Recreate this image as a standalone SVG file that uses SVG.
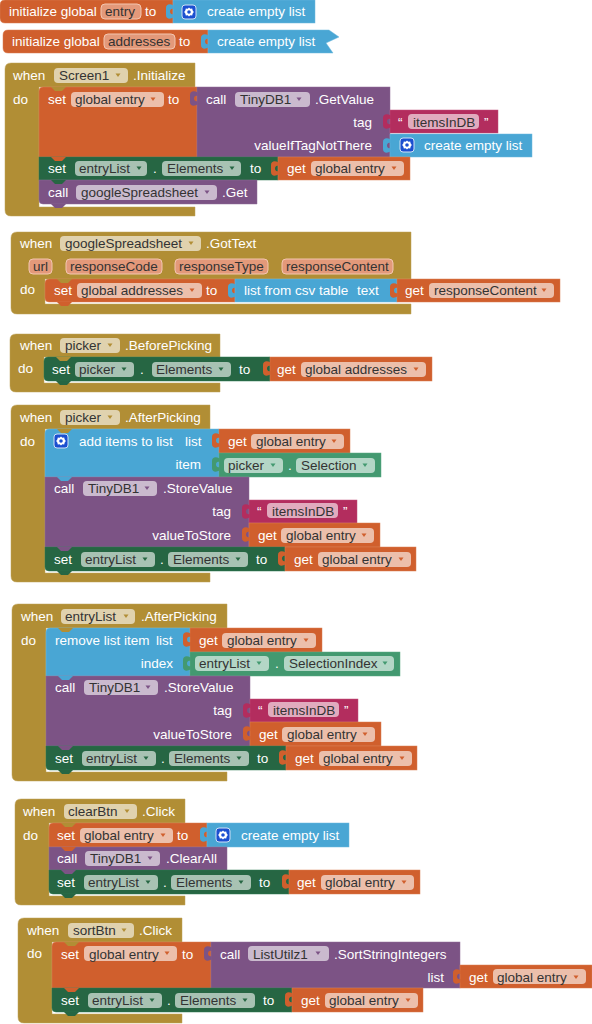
<svg xmlns="http://www.w3.org/2000/svg" width="592" height="1024" viewBox="0 0 592 1024">
<style>
text{font-family:"Liberation Sans",Arial,sans-serif;font-size:13.5px;fill:#fff;transform:translateY(-.5px)}
text.d{fill:#333}
text.e{text-anchor:end}
.or{fill:#D05F2D}.bl{fill:#49A6D4}.pu{fill:#7C5385}.go{fill:#B18E35}.dg{fill:#266643}.lg{fill:#439970}.pk{fill:#B32D5E}
path.or,rect.or{stroke:#DB7F55}path.bl,rect.bl{stroke:#6DB8DD}path.pu,rect.pu{stroke:#8F6C97}path.go{stroke:#BEA25A}path.dg,rect.dg{stroke:#2F7A50}rect.lg{stroke:#5BAA84}rect.pk{stroke:#C2527B}
path,rect{stroke-width:.5}
use{stroke:none}
.f{fill:#fff;fill-opacity:.6;stroke:none;height:15px;rx:4px;ry:4px}
.p{stroke:#F3C6B0;stroke-width:1;fill:#E3997A;height:15px;rx:4px;ry:4px}
.i{fill:#1B4FD0;stroke:#CFE0F5;stroke-width:1;height:14px;width:14px;rx:3px;ry:3px}
</style>
<defs>
<path id="dd" d="M-2.500-1.500H2.500L0 2Z"/>
<path id="t" d="M.5 5.500C-3 3.500-7 4-7 8V15C-7 19-3 19.500.5 17.500V14C-2 15-3 13-3 11.500S-2 8 .5 9Z"/>
<path id="n" d="M0 0L4 4H11L15 0Z"/>
<path id="cog" fill="#fff" d="M0-4.500L1.300-3.300 3.200-3.600 3.600-1.800 4.800 0 3.600 1.800 3.200 3.600 1.300 3.300 0 4.500-1.300 3.300-3.200 3.600-3.600 1.800-4.800 0-3.600-1.800-3.200-3.600-1.300-3.300ZM0-1.800A1.800 1.800 0 1 0 0 1.800 1.800 1.800 0 1 0 0-1.800Z" fill-rule="evenodd"/>
</defs>

<g id="init-entry">
<path class="or" d="M5 0H173V23H5Q0 23 0 18V5Q0 0 5 0Z"/>
<text x="9" y="16">initialize global</text><rect class="p" x="101" y="4" width="40"/><text class="d" x="105" y="16">entry</text><text x="145" y="16">to</text>
</g>
<g id="init-entry-list">
<rect class="bl" x="173" y="0" width="142" height="23"/>
<rect class="i" x="182" y="5"/><use href="#cog" x="189" y="12"/><text x="207" y="16">create empty list</text>
</g>
<g id="init-addresses">
<path class="or" d="M8 30H208V53H8Q3 53 3 48V35Q3 30 8 30Z"/>
<text x="12" y="46">initialize global</text><rect class="p" x="104" y="34" width="71"/><text class="d" x="108" y="46">addresses</text><text x="179" y="46">to</text>
</g>
<g id="init-addresses-list">
<path class="bl" d="M208 30H329L339 37 326 43 333 53H208Z"/>
<text x="217" y="46">create empty list</text>
</g>

<g id="screen-initialize">
<path class="go" d="M11 63H195V87H39V207H195V216H11Q5 216 5 210V69Q5 63 11 63Z"/>
<text x="13" y="80">when</text><rect class="f" x="54" y="68" width="74"/><text class="d" x="59" y="80">Screen1</text><use class="go" href="#dd" x="118" y="75"/><text x="133" y="80">.Initialize</text><text x="13" y="104">do</text>
</g>
<g id="set-entry-1">
<path class="or" d="M43 87H197V157H39V91Q39 87 43 87Z"/>
<text x="48" y="104">set</text><rect class="f" x="71" y="92" width="93"/><text class="d" x="75" y="104">global entry</text><use class="or" href="#dd" x="153" y="99"/><text x="168" y="104">to</text>
</g>
<g id="call-getvalue">
<rect class="pu" x="197" y="87" width="193" height="70"/>
<text x="206" y="104">call</text><rect class="f" x="235" y="92" width="75"/><text class="d" x="240" y="104">TinyDB1</text><use class="pu" href="#dd" x="299" y="99"/><text x="315" y="104">.GetValue</text>
<text class="e" x="372" y="127">tag</text><text class="e" x="372" y="150">valueIfTagNotThere</text>
</g>
<g id="tag-1">
<rect class="pk" x="390" y="110" width="108" height="23"/>
<text x="398" y="127">“</text><rect class="f" x="408" y="114" width="71"/><text class="d" x="413" y="127">itemsInDB</text><text x="484" y="127">”</text>
</g>
<g id="empty-list-1">
<rect class="bl" x="390" y="134" width="142" height="23"/>
<rect class="i" x="400" y="138"/><use href="#cog" x="407" y="145"/><text x="424" y="150">create empty list</text>
</g>
<g id="set-elements-1">
<rect class="dg" x="39" y="157" width="239" height="23"/>
<text x="48" y="173">set</text><rect class="f" x="75" y="161" width="72"/><text class="d" x="79" y="173">entryList</text><use class="dg" href="#dd" x="139" y="168"/><text x="153" y="173">.</text><rect class="f" x="162" y="161" width="79"/><text class="d" x="167" y="173">Elements</text><use class="dg" href="#dd" x="232" y="168"/><text x="250" y="173">to</text>
</g>
<g id="get-entry-1">
<rect class="or" x="278" y="157" width="132" height="23"/>
<text x="287" y="173">get</text><rect class="f" x="311" y="161" width="93"/><text class="d" x="315" y="173">global entry</text><use class="or" href="#dd" x="394" y="168"/>
</g>
<g id="call-get">
<path class="pu" d="M39 180H257V204H43Q39 204 39 200Z"/>
<text x="48" y="197">call</text><rect class="f" x="76" y="185" width="141"/><text class="d" x="81" y="197">googleSpreadsheet</text><use class="pu" href="#dd" x="207" y="192"/><text x="222" y="197">.Get</text>
</g>

<g id="got-text">
<path class="go" d="M17 232H411V279H45V304H411V314H17Q11 314 11 308V238Q11 232 17 232Z"/>
<text x="20" y="248">when</text><rect class="f" x="60" y="236" width="141"/><text class="d" x="65" y="248">googleSpreadsheet</text><use class="go" href="#dd" x="191" y="243"/><text x="206" y="248">.GotText</text>
<rect class="p" x="29" y="259" width="23"/><text class="d" x="33" y="271">url</text>
<rect class="p" x="66" y="259" width="96"/><text class="d" x="70" y="271">responseCode</text>
<rect class="p" x="175" y="259" width="93"/><text class="d" x="179" y="271">responseType</text>
<rect class="p" x="282" y="259" width="111"/><text class="d" x="286" y="271">responseContent</text>
<text x="20" y="294">do</text>
</g>
<g id="set-addresses">
<path class="or" d="M49 279H235V302H49Q45 302 45 298V283Q45 279 49 279Z"/>
<text x="54" y="295">set</text><rect class="f" x="77" y="283" width="125"/><text class="d" x="81" y="295">global addresses</text><use class="or" href="#dd" x="192" y="290"/><text x="206" y="295">to</text>
</g>
<g id="csv-table">
<rect class="bl" x="235" y="279" width="162" height="23"/>
<text x="244" y="295">list from csv table</text><text x="357" y="295">text</text>
</g>
<g id="get-response">
<rect class="or" x="397" y="279" width="163" height="23"/>
<text x="405" y="295">get</text><rect class="f" x="429" y="283" width="125"/><text class="d" x="434" y="295">responseContent</text><use class="or" href="#dd" x="544" y="290"/>
</g>

<g id="before-picking">
<path class="go" d="M16 334H220V357H44V383H220V392H16Q10 392 10 386V340Q10 334 16 334Z"/>
<text x="20" y="350">when</text><rect class="f" x="60" y="338" width="60"/><text class="d" x="65" y="350">picker</text><use class="go" href="#dd" x="110" y="345"/><text x="125" y="350">.BeforePicking</text><text x="18" y="373">do</text>
</g>
<g id="set-picker-elements">
<path class="dg" d="M48 357H270V381H48Q44 381 44 377V361Q44 357 48 357Z"/>
<text x="52" y="374">set</text><rect class="f" x="75" y="362" width="59"/><text class="d" x="79" y="374">picker</text><use class="dg" href="#dd" x="124" y="369"/><text x="140" y="374">.</text><rect class="f" x="152" y="362" width="79"/><text class="d" x="156" y="374">Elements</text><use class="dg" href="#dd" x="221" y="369"/><text x="239" y="374">to</text>
</g>
<g id="get-addresses">
<rect class="or" x="270" y="357" width="162" height="24"/>
<text x="277" y="374">get</text><rect class="f" x="301" y="362" width="125"/><text class="d" x="305" y="374">global addresses</text><use class="or" href="#dd" x="416" y="369"/>
</g>

<g id="picker-after">
<path class="go" d="M17 405H210V429H45V573H210V582H17Q11 582 11 576V411Q11 405 17 405Z"/>
<text x="20" y="422">when</text><rect class="f" x="60" y="410" width="60"/><text class="d" x="65" y="422">picker</text><use class="go" href="#dd" x="110" y="417"/><text x="125" y="422">.AfterPicking</text><text x="20" y="446">do</text>
</g>
<g id="add-items">
<path class="bl" d="M49 429H219V477H45V433Q45 429 49 429Z"/>
<rect class="i" x="54" y="434"/><use href="#cog" x="61" y="441"/><text x="79" y="446">add items to list</text><text x="185" y="446">list</text><text class="e" x="201" y="469">item</text>
</g>
<g id="get-entry-2">
<rect class="or" x="219" y="429" width="131" height="24"/>
<text x="228" y="446">get</text><rect class="f" x="251" y="434" width="93"/><text class="d" x="256" y="446">global entry</text><use class="or" href="#dd" x="334" y="441"/>
</g>
<g id="picker-selection">
<rect class="lg" x="219" y="453" width="162" height="24"/>
<rect class="f" x="224" y="458" width="59"/><text class="d" x="228" y="470">picker</text><use class="lg" href="#dd" x="273" y="465"/><text x="288" y="470">.</text><rect class="f" x="296" y="458" width="79"/><text class="d" x="301" y="470">Selection</text><use class="lg" href="#dd" x="365" y="465"/>
</g>
<g id="store-value-1">
<rect class="pu" x="45" y="477" width="204" height="70"/>
<text x="54" y="493">call</text><rect class="f" x="83" y="481" width="74"/><text class="d" x="88" y="493">TinyDB1</text><use class="pu" href="#dd" x="147" y="488"/><text x="163" y="493">.StoreValue</text>
<text class="e" x="231" y="516">tag</text><text class="e" x="231" y="540">valueToStore</text>
</g>
<g id="tag-2">
<rect class="pk" x="249" y="500" width="108" height="23"/>
<text x="257" y="516">“</text><rect class="f" x="267" y="503" width="71"/><text class="d" x="272" y="516">itemsInDB</text><text x="343" y="516">”</text>
</g>
<g id="get-entry-3">
<rect class="or" x="249" y="523" width="131" height="24"/>
<text x="258" y="540">get</text><rect class="f" x="281" y="528" width="93"/><text class="d" x="286" y="540">global entry</text><use class="or" href="#dd" x="364" y="535"/>
</g>
<g id="set-elements-2">
<path class="dg" d="M45 547H285V571H49Q45 571 45 567Z"/>
<text x="54" y="564">set</text><rect class="f" x="81" y="552" width="74"/><text class="d" x="85" y="564">entryList</text><use class="dg" href="#dd" x="145" y="559"/><text x="160" y="564">.</text><rect class="f" x="168" y="552" width="80"/><text class="d" x="173" y="564">Elements</text><use class="dg" href="#dd" x="238" y="559"/><text x="256" y="564">to</text>
</g>
<g id="get-entry-4">
<rect class="or" x="285" y="547" width="131" height="24"/>
<text x="294" y="564">get</text><rect class="f" x="318" y="552" width="93"/><text class="d" x="322" y="564">global entry</text><use class="or" href="#dd" x="401" y="559"/>
</g>

<g id="entrylist-after">
<path class="go" d="M18 604H227V628H46V772H227V781H18Q12 781 12 775V610Q12 604 18 604Z"/>
<text x="21" y="621">when</text><rect class="f" x="61" y="609" width="74"/><text class="d" x="65" y="621">entryList</text><use class="go" href="#dd" x="126" y="616"/><text x="141" y="621">.AfterPicking</text><text x="21" y="645">do</text>
</g>
<g id="remove-item">
<path class="bl" d="M50 628H190V676H46V632Q46 628 50 628Z"/>
<text x="55" y="645">remove list item</text><text x="156" y="645">list</text><text class="e" x="173" y="668">index</text>
</g>
<g id="get-entry-5">
<rect class="or" x="190" y="628" width="132" height="24"/>
<text x="199" y="645">get</text><rect class="f" x="222" y="633" width="94"/><text class="d" x="227" y="645">global entry</text><use class="or" href="#dd" x="306" y="640"/>
</g>
<g id="selection-index">
<rect class="lg" x="190" y="652" width="210" height="24"/>
<rect class="f" x="195" y="656" width="74"/><text class="d" x="199" y="668">entryList</text><use class="lg" href="#dd" x="259" y="663"/><text x="275" y="668">.</text><rect class="f" x="284" y="656" width="110"/><text class="d" x="289" y="668">SelectionIndex</text><use class="lg" href="#dd" x="385" y="663"/>
</g>
<g id="store-value-2">
<rect class="pu" x="46" y="676" width="204" height="70"/>
<text x="55" y="692">call</text><rect class="f" x="84" y="680" width="74"/><text class="d" x="89" y="692">TinyDB1</text><use class="pu" href="#dd" x="148" y="687"/><text x="164" y="692">.StoreValue</text>
<text class="e" x="232" y="715">tag</text><text class="e" x="232" y="739">valueToStore</text>
</g>
<g id="tag-3">
<rect class="pk" x="250" y="699" width="108" height="23"/>
<text x="258" y="715">“</text><rect class="f" x="268" y="702" width="71"/><text class="d" x="273" y="715">itemsInDB</text><text x="344" y="715">”</text>
</g>
<g id="get-entry-6">
<rect class="or" x="250" y="722" width="131" height="24"/>
<text x="259" y="739">get</text><rect class="f" x="282" y="727" width="93"/><text class="d" x="287" y="739">global entry</text><use class="or" href="#dd" x="365" y="734"/>
</g>
<g id="set-elements-3">
<path class="dg" d="M46 746H286V770H50Q46 770 46 766Z"/>
<text x="55" y="763">set</text><rect class="f" x="82" y="751" width="74"/><text class="d" x="86" y="763">entryList</text><use class="dg" href="#dd" x="146" y="758"/><text x="161" y="763">.</text><rect class="f" x="169" y="751" width="80"/><text class="d" x="174" y="763">Elements</text><use class="dg" href="#dd" x="239" y="758"/><text x="257" y="763">to</text>
</g>
<g id="get-entry-7">
<rect class="or" x="286" y="746" width="131" height="24"/>
<text x="295" y="763">get</text><rect class="f" x="319" y="751" width="93"/><text class="d" x="323" y="763">global entry</text><use class="or" href="#dd" x="402" y="758"/>
</g>

<g id="clear-click">
<path class="go" d="M21 799H185V823H49V896H185V905H21Q15 905 15 899V805Q15 799 21 799Z"/>
<text x="23" y="816">when</text><rect class="f" x="64" y="804" width="73"/><text class="d" x="68" y="816">clearBtn</text><use class="go" href="#dd" x="127" y="811"/><text x="142" y="816">.Click</text><text x="23" y="840">do</text>
</g>
<g id="set-entry-2">
<path class="or" d="M53 823H207V847H49V827Q49 823 53 823Z"/>
<text x="57" y="840">set</text><rect class="f" x="80" y="828" width="93"/><text class="d" x="84" y="840">global entry</text><use class="or" href="#dd" x="163" y="835"/><text x="177" y="840">to</text>
</g>
<g id="empty-list-2">
<rect class="bl" x="207" y="823" width="142" height="24"/>
<rect class="i" x="216" y="828"/><use href="#cog" x="223" y="835"/><text x="241" y="840">create empty list</text>
</g>
<g id="clear-all">
<rect class="pu" x="49" y="847" width="178" height="23"/>
<text x="57" y="863">call</text><rect class="f" x="85" y="851" width="75"/><text class="d" x="90" y="863">TinyDB1</text><use class="pu" href="#dd" x="150" y="858"/><text x="166" y="863">.ClearAll</text>
</g>
<g id="set-elements-4">
<path class="dg" d="M49 870H289V894H53Q49 894 49 890Z"/>
<text x="57" y="887">set</text><rect class="f" x="84" y="875" width="74"/><text class="d" x="88" y="887">entryList</text><use class="dg" href="#dd" x="148" y="882"/><text x="163" y="887">.</text><rect class="f" x="171" y="875" width="80"/><text class="d" x="176" y="887">Elements</text><use class="dg" href="#dd" x="241" y="882"/><text x="259" y="887">to</text>
</g>
<g id="get-entry-8">
<rect class="or" x="289" y="870" width="131" height="24"/>
<text x="297" y="887">get</text><rect class="f" x="321" y="875" width="93"/><text class="d" x="325" y="887">global entry</text><use class="or" href="#dd" x="404" y="882"/>
</g>

<g id="sort-click">
<path class="go" d="M24 918H182V942H52V1014H182V1023H24Q18 1023 18 1017V924Q18 918 24 918Z"/>
<text x="27" y="935">when</text><rect class="f" x="68" y="923" width="66"/><text class="d" x="73" y="935">sortBtn</text><use class="go" href="#dd" x="124" y="930"/><text x="139" y="935">.Click</text><text x="27" y="958">do</text>
</g>
<g id="set-entry-3">
<path class="or" d="M56 942H211V988H52V946Q52 942 56 942Z"/>
<text x="61" y="959">set</text><rect class="f" x="84" y="946" width="93"/><text class="d" x="89" y="959">global entry</text><use class="or" href="#dd" x="167" y="953"/><text x="182" y="959">to</text>
</g>
<g id="call-sort">
<rect class="pu" x="211" y="942" width="249" height="46"/>
<text x="220" y="959">call</text><rect class="f" x="248" y="946" width="81"/><text class="d" x="253" y="959">ListUtilz1</text><use class="pu" href="#dd" x="318" y="953"/><text x="334" y="959">.SortStringIntegers</text><text class="e" x="444" y="982">list</text>
</g>
<g id="get-entry-9">
<rect class="or" x="460" y="965" width="132" height="23"/>
<text x="469" y="982">get</text><rect class="f" x="493" y="969" width="93"/><text class="d" x="497" y="982">global entry</text><use class="or" href="#dd" x="576" y="977"/>
</g>
<g id="set-elements-5">
<path class="dg" d="M52 988H292V1012H56Q52 1012 52 1008Z"/>
<text x="61" y="1005">set</text><rect class="f" x="88" y="993" width="74"/><text class="d" x="92" y="1005">entryList</text><use class="dg" href="#dd" x="152" y="1000"/><text x="167" y="1005">.</text><rect class="f" x="175" y="993" width="80"/><text class="d" x="180" y="1005">Elements</text><use class="dg" href="#dd" x="245" y="1000"/><text x="263" y="1005">to</text>
</g>
<g id="get-entry-10">
<rect class="or" x="292" y="988" width="131" height="24"/>
<text x="301" y="1005">get</text><rect class="f" x="325" y="993" width="93"/><text class="d" x="329" y="1005">global entry</text><use class="or" href="#dd" x="408" y="1000"/>
</g>

<g id="connectors">
<use class="bl" href="#t" x="173" y="0"/><use class="bl" href="#t" x="208" y="30"/><use class="pu" href="#t" x="197" y="87"/><use class="pk" href="#t" x="390" y="110"/><use class="bl" href="#t" x="390" y="134"/><use class="or" href="#t" x="278" y="157"/>
<use class="bl" href="#t" x="235" y="279"/><use class="or" href="#t" x="397" y="279"/><use class="or" href="#t" x="270" y="357"/>
<use class="or" href="#t" x="219" y="429"/><use class="lg" href="#t" x="219" y="453"/><use class="pk" href="#t" x="249" y="500"/><use class="or" href="#t" x="249" y="523"/><use class="or" href="#t" x="285" y="547"/>
<use class="or" href="#t" x="190" y="628"/><use class="lg" href="#t" x="190" y="652"/><use class="pk" href="#t" x="250" y="699"/><use class="or" href="#t" x="250" y="722"/><use class="or" href="#t" x="286" y="746"/>
<use class="bl" href="#t" x="207" y="823"/><use class="or" href="#t" x="289" y="870"/>
<use class="pu" href="#t" x="211" y="942"/><use class="or" href="#t" x="460" y="965"/><use class="or" href="#t" x="292" y="988"/>
<use class="go" href="#n" x="51" y="87"/><use class="or" href="#n" x="51" y="157"/><use class="dg" href="#n" x="51" y="180"/><use class="pu" href="#n" x="51" y="204"/>
<use class="go" href="#n" x="57" y="279"/><use class="or" href="#n" x="57" y="302"/>
<use class="go" href="#n" x="56" y="357"/><use class="dg" href="#n" x="56" y="381"/>
<use class="go" href="#n" x="57" y="429"/><use class="bl" href="#n" x="57" y="477"/><use class="pu" href="#n" x="57" y="547"/><use class="dg" href="#n" x="57" y="571"/>
<use class="go" href="#n" x="58" y="628"/><use class="bl" href="#n" x="58" y="676"/><use class="pu" href="#n" x="58" y="746"/><use class="dg" href="#n" x="58" y="770"/>
<use class="go" href="#n" x="61" y="823"/><use class="or" href="#n" x="61" y="847"/><use class="pu" href="#n" x="61" y="870"/><use class="dg" href="#n" x="61" y="894"/>
<use class="go" href="#n" x="64" y="942"/><use class="or" href="#n" x="64" y="988"/><use class="dg" href="#n" x="64" y="1012"/>
</g>
</svg>
